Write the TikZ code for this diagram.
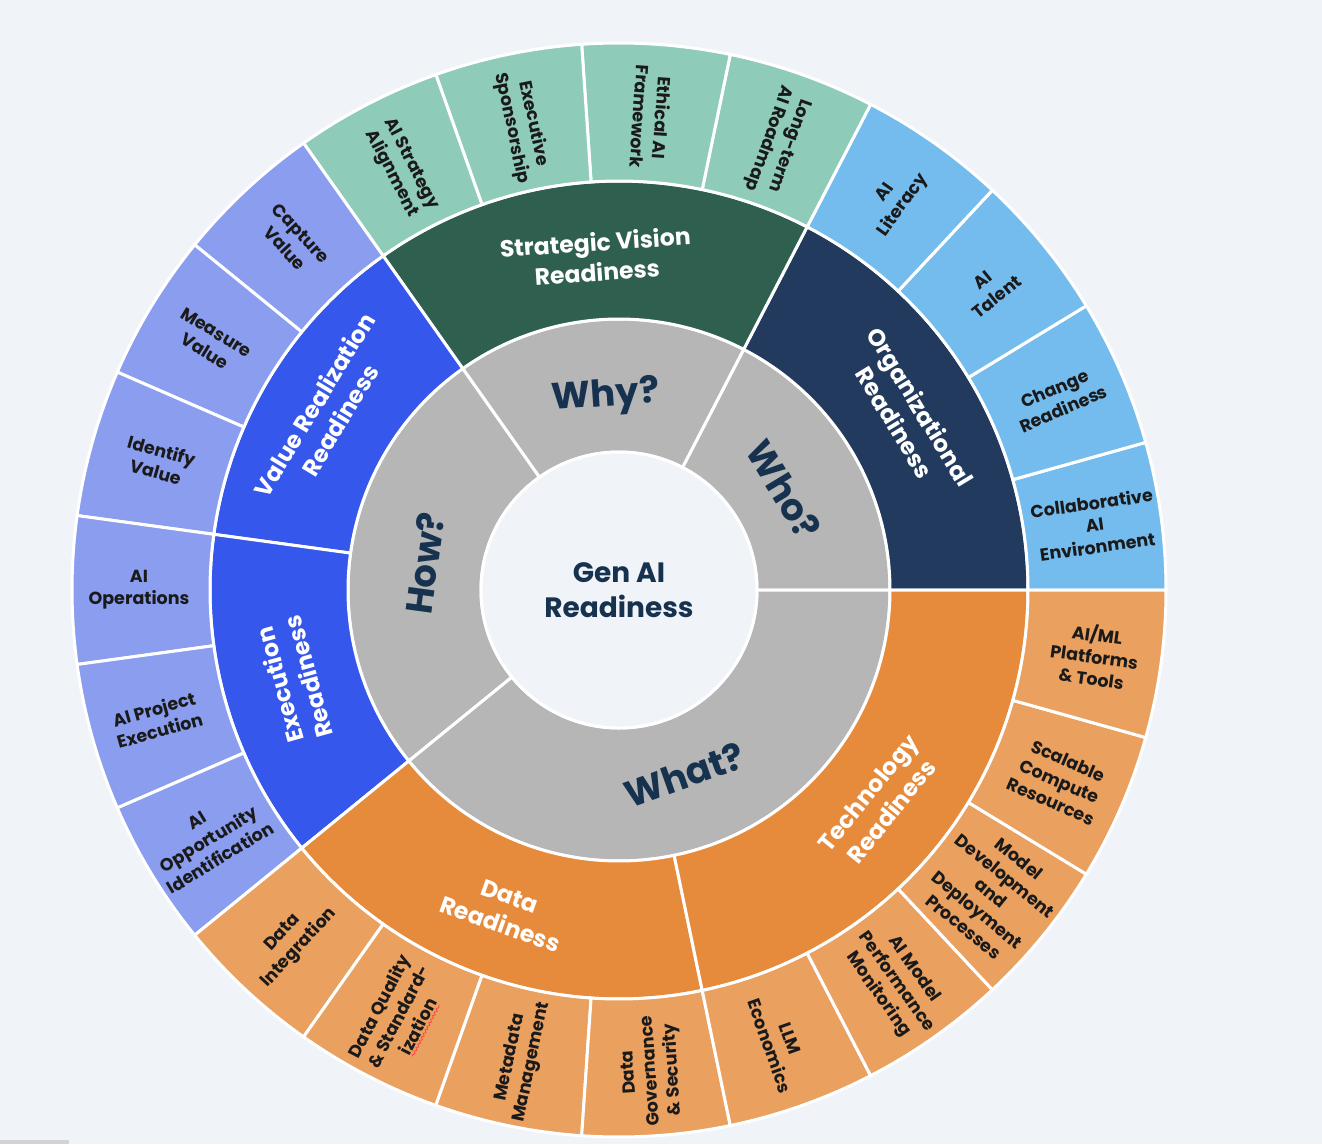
\documentclass[tikz,border=0pt]{standalone}
\usepackage{fontspec}
\setmainfont{Poppins}
\usetikzlibrary{calc,decorations.pathmorphing}
\definecolor{bg}{HTML}{F0F4F9}
\definecolor{grayring}{HTML}{B6B6B6}
\definecolor{svdark}{HTML}{2F5F4F}
\definecolor{svlight}{HTML}{8ECBB8}
\definecolor{ordark}{HTML}{223A5E}
\definecolor{orlight}{HTML}{75BCEE}
\definecolor{vrdark}{HTML}{3657EB}
\definecolor{vrlight}{HTML}{8A9DEE}
\definecolor{dtdark}{HTML}{E68B3B}
\definecolor{dtlight}{HTML}{EAA05F}
\definecolor{ink}{HTML}{1A1A1A}
\definecolor{navytext}{HTML}{17324E}
\definecolor{barline}{HTML}{D2D2D2}
\newcommand\ringseg[5]{%
  \filldraw[segline, fill=#1] ({(#4)*360/23}:#2pt) arc[start angle={(#4)*360/23}, end angle={(#5)*360/23}, radius=#2pt]
    -- ({(#5)*360/23}:#3pt) arc[start angle={(#5)*360/23}, end angle={(#4)*360/23}, radius=#3pt] -- cycle;}
\tikzset{
  segline/.style={draw=white, line width=3pt, line join=round},
  outerlbl/.style={font=\bfseries\fontsize{17.5}{22}\selectfont, text=ink, align=center, inner sep=0pt},
  midlbl/.style={font=\bfseries\fontsize{23.5}{30}\selectfont, text=white, align=center, inner sep=0pt},
  qlbl/.style={font=\bfseries\fontsize{37}{42}\selectfont, text=navytext, inner sep=0pt},
  corelbl/.style={circle, fill=bg, draw=white, line width=3pt, minimum size=276pt, align=center,
     font=\bfseries\fontsize{28}{35}\selectfont, text=navytext},
  squig/.style={draw=red!75, line width=0.7pt, decorate, decoration={snake, amplitude=1.1pt, segment length=4pt}}
}
\begin{document}
\begin{tikzpicture}
\fill[bg] (-619pt,-554pt) rectangle (703pt,590pt);
\useasboundingbox (-619pt,-554pt) rectangle (703pt,590pt);
\fill[barline] (-619pt,-554pt) rectangle (-550pt,-550pt);

% inner ring (grey)
\ringseg{grayring}{138}{271}{0}{4}
\ringseg{grayring}{138}{271}{4}{8}
\ringseg{grayring}{138}{271}{8}{14}
\ringseg{grayring}{138}{271}{14}{23}

% middle ring
\ringseg{ordark}{271}{409}{0}{4}
\ringseg{svdark}{271}{409}{4}{8}
\ringseg{vrdark}{271}{409}{8}{11}
\ringseg{vrdark}{271}{409}{11}{14}
\ringseg{dtdark}{271}{409}{14}{18}
\ringseg{dtdark}{271}{409}{18}{23}

% outer ring
\foreach \i in {0,...,3} {\ringseg{orlight}{409}{547}{\i}{\i+1}}
\foreach \i in {4,...,7} {\ringseg{svlight}{409}{547}{\i}{\i+1}}
\foreach \i in {8,...,13} {\ringseg{vrlight}{409}{547}{\i}{\i+1}}
\foreach \i in {14,...,22} {\ringseg{dtlight}{409}{547}{\i}{\i+1}}

% centre
\node[corelbl] (core) at (0,0) {Gen AI\\Readiness};

% question labels
\node[qlbl, rotate=-58.70] (who)  at ({2*360/23}:193pt) {Who?};
\node[qlbl, rotate=3.91]   (why)  at ({6*360/23}:193pt) {Why?};
\node[qlbl, rotate=82.17]  (how)  at ({11*360/23}:196pt) {How?};
\node[qlbl, rotate=19.57]  (what) at ({18.5*360/23}:196pt) {What?};

% middle labels
\node[midlbl, rotate=-58.70] (org)  at ({2*360/23}:338pt) {Organizational\\Readiness};
\node[midlbl, rotate=3.91]   (svr)  at ({6*360/23}:334pt) {Strategic Vision\\Readiness};
\node[midlbl, rotate=58.70]  (vrr)  at ({9.5*360/23}:342pt) {Value Realization\\Readiness};
\node[midlbl, rotate=105.65] (exr)  at ({12.5*360/23}:338pt) {Execution\\Readiness};
\node[midlbl, rotate=-19.57] (dar)  at ({16*360/23}:340pt) {Data\\Readiness};
\node[midlbl, rotate=50.87]  (ter)  at ({20.5*360/23}:336pt) {Technology\\Readiness};

% outer labels
\node[outerlbl, rotate=7.83]    (o1)  at ({0.5*360/23}:480pt) {Collaborative\\AI\\Environment};
\node[outerlbl, rotate=23.48]   (o2)  at ({1.5*360/23}:480pt) {Change\\Readiness};
\node[outerlbl, rotate=39.13]   (o3)  at ({2.5*360/23}:478pt) {AI\\Talent};
\node[outerlbl, rotate=54.78]   (o4)  at ({3.5*360/23}:478pt) {AI\\Literacy};
\node[outerlbl, rotate=-109.57] (o5)  at ({4.5*360/23}:476pt) {Long-term\\AI Roadmap};
\node[outerlbl, rotate=-93.91]  (o6)  at ({5.5*360/23}:474pt) {Ethical AI\\Framework};
\node[outerlbl, rotate=-78.26]  (o7)  at ({6.5*360/23}:474pt) {Executive\\Sponsorship};
\node[outerlbl, rotate=-62.61]  (o8)  at ({7.5*360/23}:474pt) {AI Strategy\\Alignment};
\node[outerlbl, rotate=-46.96]  (o9)  at ({8.5*360/23}:478pt) {Capture\\Value};
\node[outerlbl, rotate=-31.30]  (o10) at ({9.5*360/23}:478pt) {Measure\\Value};
\node[outerlbl, rotate=-15.65]  (o11) at ({10.5*360/23}:478pt) {Identify\\Value};
\node[outerlbl, rotate=0]       (o12) at ({11.5*360/23}:480pt) {AI\\Operations};
\node[outerlbl, rotate=15.65]   (o13) at ({12.5*360/23}:480pt) {AI Project\\Execution};
\node[outerlbl, rotate=31.30]   (o14) at ({13.5*360/23}:480pt) {AI\\Opportunity\\Identification};
\node[outerlbl, rotate=46.96]   (o15) at ({14.5*360/23}:480pt) {Data\\Integration};
\node[outerlbl, rotate=62.61]   (dq)  at ({15.5*360/23}:480pt) {Data Quality\\\& Standard-\\ization};
\node[outerlbl, rotate=78.26]   (o17) at ({16.5*360/23}:480pt) {Metadata\\Management};
\node[outerlbl, rotate=93.91]   (o18) at ({17.5*360/23}:482pt) {Data\\Governance\\\& Security};
\node[outerlbl, rotate=-70.43]  (o19) at ({18.5*360/23}:480pt) {LLM\\Economics};
\node[outerlbl, rotate=-54.78]  (o20) at ({19.5*360/23}:480pt) {AI Model\\Performance\\Monitoring};
\node[outerlbl, rotate=-39.13]  (o21) at ({20.5*360/23}:480pt) {Model\\Development\\and\\Deployment\\Processes};
\node[outerlbl, rotate=-23.48]  (o22) at ({21.5*360/23}:480pt) {Scalable\\Compute\\Resources};
\node[outerlbl, rotate=-7.83]   (o23) at ({22.5*360/23}:480pt) {AI/ML\\Platforms\\\& Tools};

% spell-check squiggle under "ization"
\coordinate (sqa) at ($(dq.south)!29pt!(dq.south west)$);
\coordinate (sqb) at ($(dq.south)!29pt!(dq.south east)$);
\coordinate (sqa2) at ($(sqa)!2pt!-90:(sqb)$);
\coordinate (sqb2) at ($(sqb)!2pt!90:(sqa)$);
\draw[squig] (sqa2) -- (sqb2);
\end{tikzpicture}
\end{document}
